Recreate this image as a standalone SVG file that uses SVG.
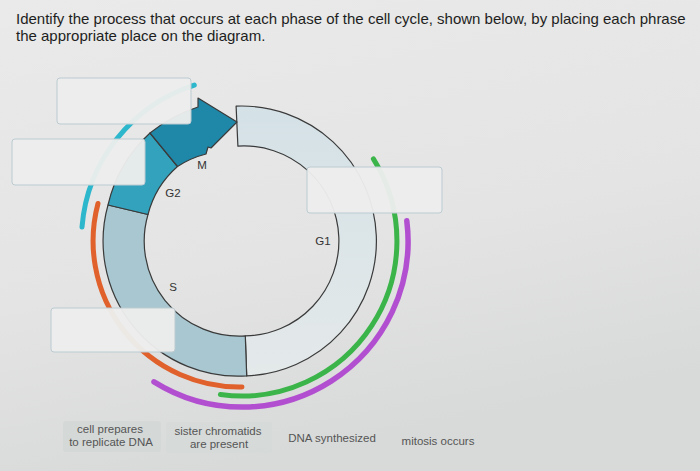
<svg xmlns="http://www.w3.org/2000/svg" width="700" height="471" viewBox="0 0 700 471">
<defs>
<linearGradient id="bg" x1="0" y1="0" x2="0.3" y2="1">
<stop offset="0" stop-color="#e9eae9"/>
<stop offset="0.6" stop-color="#e3e4e3"/>
<stop offset="1" stop-color="#d8dad9"/>
</linearGradient>
<linearGradient id="g1fill" x1="0" y1="0" x2="0" y2="1">
<stop offset="0" stop-color="#d4e1e6"/>
<stop offset="1" stop-color="#e4e9ea"/>
</linearGradient>
<style>
.title{font-family:"Liberation Sans",Arial,sans-serif;font-size:15px;fill:#1e1e1e}
.phase{font-family:"Liberation Sans",Arial,sans-serif;font-size:11.5px;fill:#333;text-anchor:middle}
.chiptxt{font-family:"Liberation Sans",Arial,sans-serif;font-size:11.5px;fill:#555;text-anchor:middle}
.seg{stroke:#3a3a3a;stroke-width:1.2;stroke-linejoin:round}
.drop{fill:#ecedec;fill-opacity:0.96;stroke:#bccbd2;stroke-width:1}
.chip{fill:#d4d8d7}
.arc{fill:none;stroke-linecap:round}
</style>
</defs>
<rect width="700" height="471" fill="url(#bg)"/>

<text class="title" x="16" y="23.5">Identify the process that occurs at each phase of the cell cycle, shown below, by placing each phrase</text>
<text class="title" x="16" y="40.5">the appropriate place on the diagram.</text>

<g id="node-G1">
<path class="seg" fill="url(#g1fill)" d="M236.1,106.1 A135 135 0 1 1 246.7,375.9 L245.3,335.9 A95 95 0 1 0 237.9,146.1 Z"/>
<text class="phase" x="323" y="245">G1</text>
</g>
<g id="node-S">
<path class="seg" fill="#a8c7d0" d="M246.7,375.9 A135 135 0 0 1 108,205 L148,214.5 A95 95 0 0 0 245.3,335.9 Z"/>
<text class="phase" x="173" y="291">S</text>
</g>
<g id="node-G2">
<path class="seg" fill="#33a2bd" d="M108,205 A140 140 0 0 1 150,133 L177.5,166.5 A95 95 0 0 0 148,214.5 Z"/>
<text class="phase" x="173" y="197">G2</text>
</g>
<g id="node-M">
<path class="seg" fill="#1f87a8" d="M150,133 A146 146 0 0 1 198,107 L198,98 L237,122 L211,148 L208,147 L206,154 A95 95 0 0 0 177.5,166.5 Z"/>
<text class="phase" x="202" y="169">M</text>
</g>

<g id="connectors">
<path class="arc" stroke="#2db7cc" stroke-width="5" d="M82,227 A163 163 0 0 1 194.3,85.1"/>
<path class="arc" stroke="#e0612b" stroke-width="5" d="M242,387 A146 146 0 0 1 98,203.5"/>
<path class="arc" stroke="#3bb54a" stroke-width="5" d="M373.4,158.9 A155 155 0 0 1 220.4,394.5"/>
<path class="arc" stroke="#b24fd0" stroke-width="5.5" d="M406.8,220.8 A166 166 0 0 1 154,381.8"/>
</g>

<g id="drop-1"><rect class="drop" x="57" y="78" width="134" height="46" rx="3"/></g>
<g id="drop-2"><rect class="drop" x="12" y="139" width="133" height="46" rx="3"/></g>
<g id="drop-3"><rect class="drop" x="307" y="167" width="135" height="46" rx="3"/></g>
<g id="drop-4"><rect class="drop" x="51" y="308" width="124" height="44" rx="3"/></g>

<g id="chip-1">
<rect class="chip" x="63" y="421" width="98" height="31" rx="3"/>
<text class="chiptxt" x="110" y="433">cell prepares</text>
<text class="chiptxt" x="111" y="446">to replicate DNA</text>
</g>
<g id="chip-2">
<rect class="chip" x="166" y="422" width="106" height="31" rx="3" fill-opacity="0.6"/>
<text class="chiptxt" x="218" y="435">sister chromatids</text>
<text class="chiptxt" x="219" y="448">are present</text>
</g>
<g id="chip-3">
<text class="chiptxt" x="332" y="442">DNA synthesized</text>
</g>
<g id="chip-4">
<text class="chiptxt" x="438" y="445">mitosis occurs</text>
</g>
</svg>
